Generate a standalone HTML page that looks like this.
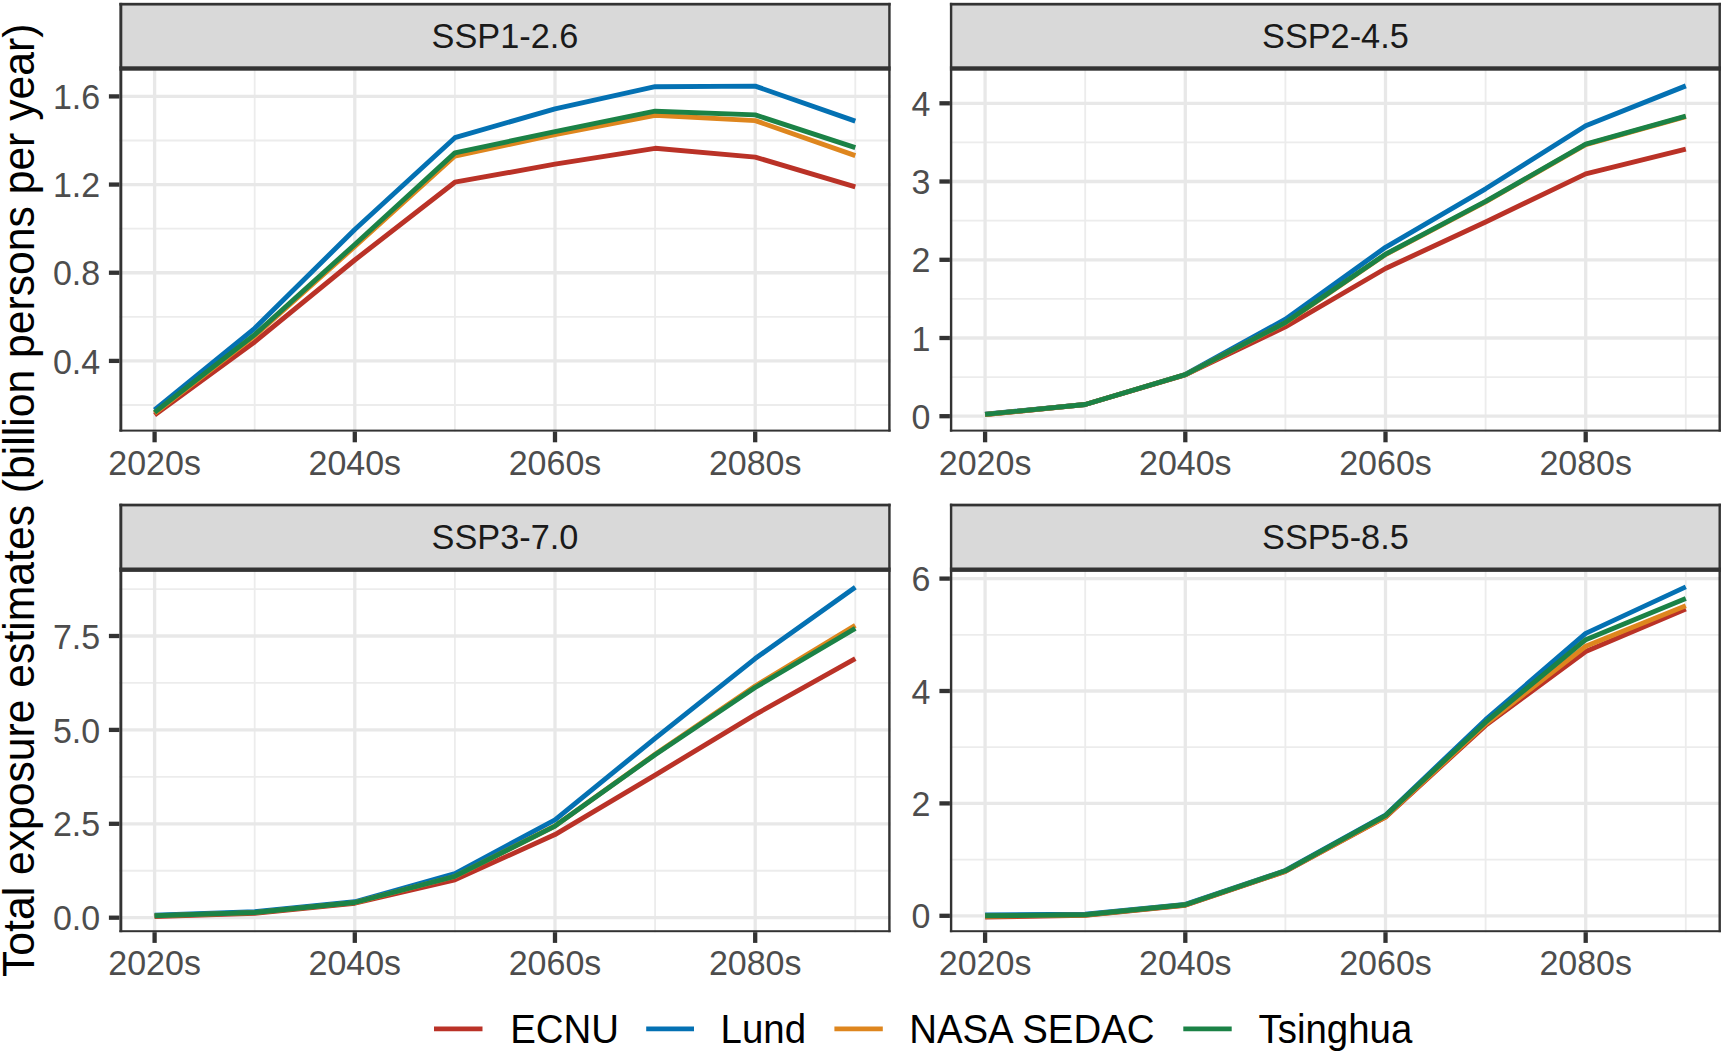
<!DOCTYPE html>
<html lang="en"><head><meta charset="utf-8"><title>Total exposure estimates</title>
<style>
html,body{margin:0;padding:0;background:#fff;}
body{width:1724px;height:1054px;overflow:hidden;}
svg{display:block;}
text{font-family:"Liberation Sans",Arial,Helvetica,sans-serif;font-kerning:normal;}
.ax{font-size:34px;fill:#4D4D4D;}
.st{font-size:34.3px;fill:#1A1A1A;}
.lg{font-size:38.4px;fill:#000;}
.ti{font-size:42.68px;fill:#000;}
</style></head><body>
<svg width="1724" height="1054" viewBox="0 0 1724 1054">
<rect x="0" y="0" width="1724" height="1054" fill="#fff"/>

<rect x="119.4" y="2.85" width="771.20" height="65.65" fill="#D9D9D9"/>
<text class="st" transform="translate(505.0,48.1) scale(1,1.04)" text-anchor="middle">SSP1-2.6</text>
<rect x="119.4" y="68.5" width="771.20" height="363.10" fill="#fff"/>
<line x1="119.4" x2="890.6" y1="140.5" y2="140.5" stroke="#ECECEC" stroke-width="1.8"/>
<line x1="119.4" x2="890.6" y1="228.65" y2="228.65" stroke="#ECECEC" stroke-width="1.8"/>
<line x1="119.4" x2="890.6" y1="316.8" y2="316.8" stroke="#ECECEC" stroke-width="1.8"/>
<line x1="119.4" x2="890.6" y1="405.0" y2="405.0" stroke="#ECECEC" stroke-width="1.8"/>
<line x1="254.7" x2="254.7" y1="68.5" y2="431.6" stroke="#ECECEC" stroke-width="1.8"/>
<line x1="454.9" x2="454.9" y1="68.5" y2="431.6" stroke="#ECECEC" stroke-width="1.8"/>
<line x1="655.1" x2="655.1" y1="68.5" y2="431.6" stroke="#ECECEC" stroke-width="1.8"/>
<line x1="855.3" x2="855.3" y1="68.5" y2="431.6" stroke="#ECECEC" stroke-width="1.8"/>
<line x1="119.4" x2="890.6" y1="96.4" y2="96.4" stroke="#E8E8E8" stroke-width="3.3"/>
<line x1="119.4" x2="890.6" y1="184.57" y2="184.57" stroke="#E8E8E8" stroke-width="3.3"/>
<line x1="119.4" x2="890.6" y1="272.73" y2="272.73" stroke="#E8E8E8" stroke-width="3.3"/>
<line x1="119.4" x2="890.6" y1="360.9" y2="360.9" stroke="#E8E8E8" stroke-width="3.3"/>
<line x1="154.6" x2="154.6" y1="68.5" y2="431.6" stroke="#E8E8E8" stroke-width="3.3"/>
<line x1="354.8" x2="354.8" y1="68.5" y2="431.6" stroke="#E8E8E8" stroke-width="3.3"/>
<line x1="555.0" x2="555.0" y1="68.5" y2="431.6" stroke="#E8E8E8" stroke-width="3.3"/>
<line x1="755.2" x2="755.2" y1="68.5" y2="431.6" stroke="#E8E8E8" stroke-width="3.3"/>
<polyline points="154.6,415.0 254.7,341.9 354.8,260.0 454.9,182.2 555.0,164.2 655.1,148.3 755.2,157.1 855.3,186.8" fill="none" stroke="#BA3227" stroke-width="4.9" stroke-linejoin="round" stroke-linecap="butt"/>
<polyline points="154.6,410.0 254.7,328.3 354.8,229.5 454.9,137.7 555.0,108.8 655.1,86.7 755.2,86.1 855.3,121.1" fill="none" stroke="#0471B3" stroke-width="4.9" stroke-linejoin="round" stroke-linecap="butt"/>
<polyline points="154.6,413.2 254.7,336.0 354.8,246.5 454.9,156.0 555.0,134.6 655.1,115.3 755.2,120.6 855.3,155.6" fill="none" stroke="#DE861E" stroke-width="4.9" stroke-linejoin="round" stroke-linecap="butt"/>
<polyline points="154.6,412.4 254.7,334.6 354.8,244.5 454.9,152.9 555.0,131.6 655.1,111.2 755.2,114.9 855.3,147.6" fill="none" stroke="#1B8246" stroke-width="4.9" stroke-linejoin="round" stroke-linecap="butt"/>
<g fill="#333333"><rect x="119.4" y="2.85" width="2.9" height="428.75"/><rect x="888.20" y="2.85" width="2.4" height="428.75"/><rect x="119.4" y="2.85" width="771.20" height="2.7"/><rect x="119.4" y="66.30" width="771.20" height="4.4"/><rect x="119.4" y="429.60" width="771.20" height="2.0"/></g>
<line x1="154.6" x2="154.6" y1="431.6" y2="442.3" stroke="#333333" stroke-width="4.3"/>
<text class="ax" transform="translate(154.6,474.9) scale(1,1.04)" text-anchor="middle">2020s</text>
<line x1="354.8" x2="354.8" y1="431.6" y2="442.3" stroke="#333333" stroke-width="4.3"/>
<text class="ax" transform="translate(354.8,474.9) scale(1,1.04)" text-anchor="middle">2040s</text>
<line x1="555.0" x2="555.0" y1="431.6" y2="442.3" stroke="#333333" stroke-width="4.3"/>
<text class="ax" transform="translate(555.0,474.9) scale(1,1.04)" text-anchor="middle">2060s</text>
<line x1="755.2" x2="755.2" y1="431.6" y2="442.3" stroke="#333333" stroke-width="4.3"/>
<text class="ax" transform="translate(755.2,474.9) scale(1,1.04)" text-anchor="middle">2080s</text>
<line x1="108.9" x2="119.4" y1="96.4" y2="96.4" stroke="#333333" stroke-width="4.3"/>
<text class="ax" transform="translate(100.2,109.0) scale(1,1.04)" text-anchor="end">1.6</text>
<line x1="108.9" x2="119.4" y1="184.57" y2="184.57" stroke="#333333" stroke-width="4.3"/>
<text class="ax" transform="translate(100.2,197.2) scale(1,1.04)" text-anchor="end">1.2</text>
<line x1="108.9" x2="119.4" y1="272.73" y2="272.73" stroke="#333333" stroke-width="4.3"/>
<text class="ax" transform="translate(100.2,285.3) scale(1,1.04)" text-anchor="end">0.8</text>
<line x1="108.9" x2="119.4" y1="360.9" y2="360.9" stroke="#333333" stroke-width="4.3"/>
<text class="ax" transform="translate(100.2,373.5) scale(1,1.04)" text-anchor="end">0.4</text>
<rect x="949.9" y="2.85" width="771.00" height="65.65" fill="#D9D9D9"/>
<text class="st" transform="translate(1335.4,48.1) scale(1,1.04)" text-anchor="middle">SSP2-4.5</text>
<rect x="949.9" y="68.5" width="771.00" height="363.10" fill="#fff"/>
<line x1="949.9" x2="1720.9" y1="142.4" y2="142.4" stroke="#ECECEC" stroke-width="1.8"/>
<line x1="949.9" x2="1720.9" y1="220.65" y2="220.65" stroke="#ECECEC" stroke-width="1.8"/>
<line x1="949.9" x2="1720.9" y1="298.9" y2="298.9" stroke="#ECECEC" stroke-width="1.8"/>
<line x1="949.9" x2="1720.9" y1="377.1" y2="377.1" stroke="#ECECEC" stroke-width="1.8"/>
<line x1="1085.2" x2="1085.2" y1="68.5" y2="431.6" stroke="#ECECEC" stroke-width="1.8"/>
<line x1="1285.4" x2="1285.4" y1="68.5" y2="431.6" stroke="#ECECEC" stroke-width="1.8"/>
<line x1="1485.6" x2="1485.6" y1="68.5" y2="431.6" stroke="#ECECEC" stroke-width="1.8"/>
<line x1="1685.8" x2="1685.8" y1="68.5" y2="431.6" stroke="#ECECEC" stroke-width="1.8"/>
<line x1="949.9" x2="1720.9" y1="103.3" y2="103.3" stroke="#E8E8E8" stroke-width="3.3"/>
<line x1="949.9" x2="1720.9" y1="181.5" y2="181.5" stroke="#E8E8E8" stroke-width="3.3"/>
<line x1="949.9" x2="1720.9" y1="259.8" y2="259.8" stroke="#E8E8E8" stroke-width="3.3"/>
<line x1="949.9" x2="1720.9" y1="338.0" y2="338.0" stroke="#E8E8E8" stroke-width="3.3"/>
<line x1="949.9" x2="1720.9" y1="416.2" y2="416.2" stroke="#E8E8E8" stroke-width="3.3"/>
<line x1="985.1" x2="985.1" y1="68.5" y2="431.6" stroke="#E8E8E8" stroke-width="3.3"/>
<line x1="1185.3" x2="1185.3" y1="68.5" y2="431.6" stroke="#E8E8E8" stroke-width="3.3"/>
<line x1="1385.5" x2="1385.5" y1="68.5" y2="431.6" stroke="#E8E8E8" stroke-width="3.3"/>
<line x1="1585.7" x2="1585.7" y1="68.5" y2="431.6" stroke="#E8E8E8" stroke-width="3.3"/>
<polyline points="985.1,414.5 1085.2,404.5 1185.3,374.9 1285.4,326.8 1385.5,268.5 1485.6,222.0 1585.7,173.9 1685.8,149.1" fill="none" stroke="#BA3227" stroke-width="4.9" stroke-linejoin="round" stroke-linecap="butt"/>
<polyline points="985.1,414.3 1085.2,404.5 1185.3,374.5 1285.4,319.2 1385.5,247.3 1485.6,188.8 1585.7,125.8 1685.8,85.9" fill="none" stroke="#0471B3" stroke-width="4.9" stroke-linejoin="round" stroke-linecap="butt"/>
<polyline points="985.1,414.5 1085.2,404.5 1185.3,374.7 1285.4,322.9 1385.5,254.6 1485.6,201.8 1585.7,144.6 1685.8,116.6" fill="none" stroke="#DE861E" stroke-width="4.9" stroke-linejoin="round" stroke-linecap="butt"/>
<polyline points="985.1,414.4 1085.2,404.5 1185.3,374.7 1285.4,322.6 1385.5,254.2 1485.6,201.4 1585.7,144.2 1685.8,116.1" fill="none" stroke="#1B8246" stroke-width="4.9" stroke-linejoin="round" stroke-linecap="butt"/>
<g fill="#333333"><rect x="949.9" y="2.85" width="2.4" height="428.75"/><rect x="1718.50" y="2.85" width="2.4" height="428.75"/><rect x="949.9" y="2.85" width="771.00" height="2.7"/><rect x="949.9" y="66.30" width="771.00" height="4.4"/><rect x="949.9" y="429.60" width="771.00" height="2.0"/></g>
<line x1="985.1" x2="985.1" y1="431.6" y2="442.3" stroke="#333333" stroke-width="4.3"/>
<text class="ax" transform="translate(985.1,474.9) scale(1,1.04)" text-anchor="middle">2020s</text>
<line x1="1185.3" x2="1185.3" y1="431.6" y2="442.3" stroke="#333333" stroke-width="4.3"/>
<text class="ax" transform="translate(1185.3,474.9) scale(1,1.04)" text-anchor="middle">2040s</text>
<line x1="1385.5" x2="1385.5" y1="431.6" y2="442.3" stroke="#333333" stroke-width="4.3"/>
<text class="ax" transform="translate(1385.5,474.9) scale(1,1.04)" text-anchor="middle">2060s</text>
<line x1="1585.7" x2="1585.7" y1="431.6" y2="442.3" stroke="#333333" stroke-width="4.3"/>
<text class="ax" transform="translate(1585.7,474.9) scale(1,1.04)" text-anchor="middle">2080s</text>
<line x1="939.4" x2="949.9" y1="103.3" y2="103.3" stroke="#333333" stroke-width="4.3"/>
<text class="ax" transform="translate(930.4,115.9) scale(1,1.04)" text-anchor="end">4</text>
<line x1="939.4" x2="949.9" y1="181.5" y2="181.5" stroke="#333333" stroke-width="4.3"/>
<text class="ax" transform="translate(930.4,194.1) scale(1,1.04)" text-anchor="end">3</text>
<line x1="939.4" x2="949.9" y1="259.8" y2="259.8" stroke="#333333" stroke-width="4.3"/>
<text class="ax" transform="translate(930.4,272.4) scale(1,1.04)" text-anchor="end">2</text>
<line x1="939.4" x2="949.9" y1="338.0" y2="338.0" stroke="#333333" stroke-width="4.3"/>
<text class="ax" transform="translate(930.4,350.6) scale(1,1.04)" text-anchor="end">1</text>
<line x1="939.4" x2="949.9" y1="416.2" y2="416.2" stroke="#333333" stroke-width="4.3"/>
<text class="ax" transform="translate(930.4,428.8) scale(1,1.04)" text-anchor="end">0</text>
<rect x="119.4" y="503.7" width="771.20" height="66.00" fill="#D9D9D9"/>
<text class="st" transform="translate(505.0,548.9) scale(1,1.04)" text-anchor="middle">SSP3-7.0</text>
<rect x="119.4" y="569.7" width="771.20" height="362.50" fill="#fff"/>
<line x1="119.4" x2="890.6" y1="589.05" y2="589.05" stroke="#ECECEC" stroke-width="1.8"/>
<line x1="119.4" x2="890.6" y1="682.95" y2="682.95" stroke="#ECECEC" stroke-width="1.8"/>
<line x1="119.4" x2="890.6" y1="776.85" y2="776.85" stroke="#ECECEC" stroke-width="1.8"/>
<line x1="119.4" x2="890.6" y1="870.75" y2="870.75" stroke="#ECECEC" stroke-width="1.8"/>
<line x1="254.7" x2="254.7" y1="569.7" y2="932.2" stroke="#ECECEC" stroke-width="1.8"/>
<line x1="454.9" x2="454.9" y1="569.7" y2="932.2" stroke="#ECECEC" stroke-width="1.8"/>
<line x1="655.1" x2="655.1" y1="569.7" y2="932.2" stroke="#ECECEC" stroke-width="1.8"/>
<line x1="855.3" x2="855.3" y1="569.7" y2="932.2" stroke="#ECECEC" stroke-width="1.8"/>
<line x1="119.4" x2="890.6" y1="636.0" y2="636.0" stroke="#E8E8E8" stroke-width="3.3"/>
<line x1="119.4" x2="890.6" y1="729.9" y2="729.9" stroke="#E8E8E8" stroke-width="3.3"/>
<line x1="119.4" x2="890.6" y1="823.8" y2="823.8" stroke="#E8E8E8" stroke-width="3.3"/>
<line x1="119.4" x2="890.6" y1="917.7" y2="917.7" stroke="#E8E8E8" stroke-width="3.3"/>
<line x1="154.6" x2="154.6" y1="569.7" y2="932.2" stroke="#E8E8E8" stroke-width="3.3"/>
<line x1="354.8" x2="354.8" y1="569.7" y2="932.2" stroke="#E8E8E8" stroke-width="3.3"/>
<line x1="555.0" x2="555.0" y1="569.7" y2="932.2" stroke="#E8E8E8" stroke-width="3.3"/>
<line x1="755.2" x2="755.2" y1="569.7" y2="932.2" stroke="#E8E8E8" stroke-width="3.3"/>
<polyline points="154.6,916.5 254.7,913.4 354.8,903.2 454.9,879.8 555.0,834.6 655.1,775.1 755.2,714.6 855.3,658.7" fill="none" stroke="#BA3227" stroke-width="4.9" stroke-linejoin="round" stroke-linecap="butt"/>
<polyline points="154.6,915.1 254.7,911.8 354.8,901.8 454.9,873.6 555.0,819.8 655.1,738.4 755.2,658.6 855.3,587.2" fill="none" stroke="#0471B3" stroke-width="4.9" stroke-linejoin="round" stroke-linecap="butt"/>
<polyline points="154.6,915.9 254.7,912.6 354.8,902.6 454.9,876.5 555.0,826.0 655.1,754.3 755.2,686.0 855.3,625.3" fill="none" stroke="#DE861E" stroke-width="4.9" stroke-linejoin="round" stroke-linecap="butt"/>
<polyline points="154.6,915.8 254.7,912.5 354.8,902.5 454.9,876.3 555.0,826.1 655.1,754.7 755.2,687.5 855.3,628.3" fill="none" stroke="#1B8246" stroke-width="4.9" stroke-linejoin="round" stroke-linecap="butt"/>
<g fill="#333333"><rect x="119.4" y="503.7" width="2.9" height="428.50"/><rect x="888.20" y="503.7" width="2.4" height="428.50"/><rect x="119.4" y="503.7" width="771.20" height="2.7"/><rect x="119.4" y="567.50" width="771.20" height="4.4"/><rect x="119.4" y="930.20" width="771.20" height="2.0"/></g>
<line x1="154.6" x2="154.6" y1="932.2" y2="942.9" stroke="#333333" stroke-width="4.3"/>
<text class="ax" transform="translate(154.6,975.4) scale(1,1.04)" text-anchor="middle">2020s</text>
<line x1="354.8" x2="354.8" y1="932.2" y2="942.9" stroke="#333333" stroke-width="4.3"/>
<text class="ax" transform="translate(354.8,975.4) scale(1,1.04)" text-anchor="middle">2040s</text>
<line x1="555.0" x2="555.0" y1="932.2" y2="942.9" stroke="#333333" stroke-width="4.3"/>
<text class="ax" transform="translate(555.0,975.4) scale(1,1.04)" text-anchor="middle">2060s</text>
<line x1="755.2" x2="755.2" y1="932.2" y2="942.9" stroke="#333333" stroke-width="4.3"/>
<text class="ax" transform="translate(755.2,975.4) scale(1,1.04)" text-anchor="middle">2080s</text>
<line x1="108.9" x2="119.4" y1="636.0" y2="636.0" stroke="#333333" stroke-width="4.3"/>
<text class="ax" transform="translate(100.2,648.6) scale(1,1.04)" text-anchor="end">7.5</text>
<line x1="108.9" x2="119.4" y1="729.9" y2="729.9" stroke="#333333" stroke-width="4.3"/>
<text class="ax" transform="translate(100.2,742.5) scale(1,1.04)" text-anchor="end">5.0</text>
<line x1="108.9" x2="119.4" y1="823.8" y2="823.8" stroke="#333333" stroke-width="4.3"/>
<text class="ax" transform="translate(100.2,836.4) scale(1,1.04)" text-anchor="end">2.5</text>
<line x1="108.9" x2="119.4" y1="917.7" y2="917.7" stroke="#333333" stroke-width="4.3"/>
<text class="ax" transform="translate(100.2,930.3) scale(1,1.04)" text-anchor="end">0.0</text>
<rect x="949.9" y="503.7" width="771.00" height="66.00" fill="#D9D9D9"/>
<text class="st" transform="translate(1335.4,548.9) scale(1,1.04)" text-anchor="middle">SSP5-8.5</text>
<rect x="949.9" y="569.7" width="771.00" height="362.50" fill="#fff"/>
<line x1="949.9" x2="1720.9" y1="634.8" y2="634.8" stroke="#ECECEC" stroke-width="1.8"/>
<line x1="949.9" x2="1720.9" y1="747.2" y2="747.2" stroke="#ECECEC" stroke-width="1.8"/>
<line x1="949.9" x2="1720.9" y1="859.6" y2="859.6" stroke="#ECECEC" stroke-width="1.8"/>
<line x1="1085.2" x2="1085.2" y1="569.7" y2="932.2" stroke="#ECECEC" stroke-width="1.8"/>
<line x1="1285.4" x2="1285.4" y1="569.7" y2="932.2" stroke="#ECECEC" stroke-width="1.8"/>
<line x1="1485.6" x2="1485.6" y1="569.7" y2="932.2" stroke="#ECECEC" stroke-width="1.8"/>
<line x1="1685.8" x2="1685.8" y1="569.7" y2="932.2" stroke="#ECECEC" stroke-width="1.8"/>
<line x1="949.9" x2="1720.9" y1="578.6" y2="578.6" stroke="#E8E8E8" stroke-width="3.3"/>
<line x1="949.9" x2="1720.9" y1="691.0" y2="691.0" stroke="#E8E8E8" stroke-width="3.3"/>
<line x1="949.9" x2="1720.9" y1="803.4" y2="803.4" stroke="#E8E8E8" stroke-width="3.3"/>
<line x1="949.9" x2="1720.9" y1="915.8" y2="915.8" stroke="#E8E8E8" stroke-width="3.3"/>
<line x1="985.1" x2="985.1" y1="569.7" y2="932.2" stroke="#E8E8E8" stroke-width="3.3"/>
<line x1="1185.3" x2="1185.3" y1="569.7" y2="932.2" stroke="#E8E8E8" stroke-width="3.3"/>
<line x1="1385.5" x2="1385.5" y1="569.7" y2="932.2" stroke="#E8E8E8" stroke-width="3.3"/>
<line x1="1585.7" x2="1585.7" y1="569.7" y2="932.2" stroke="#E8E8E8" stroke-width="3.3"/>
<polyline points="985.1,917.0 1085.2,915.4 1185.3,905.3 1285.4,871.4 1385.5,817.2 1485.6,725.4 1585.7,651.5 1685.8,608.9" fill="none" stroke="#BA3227" stroke-width="4.9" stroke-linejoin="round" stroke-linecap="butt"/>
<polyline points="985.1,915.0 1085.2,914.3 1185.3,904.4 1285.4,870.5 1385.5,815.2 1485.6,719.7 1585.7,633.4 1685.8,586.9" fill="none" stroke="#0471B3" stroke-width="4.9" stroke-linejoin="round" stroke-linecap="butt"/>
<polyline points="985.1,916.3 1085.2,915.0 1185.3,905.0 1285.4,871.1 1385.5,816.8 1485.6,724.0 1585.7,646.3 1685.8,605.8" fill="none" stroke="#DE861E" stroke-width="4.9" stroke-linejoin="round" stroke-linecap="butt"/>
<polyline points="985.1,915.8 1085.2,914.8 1185.3,904.8 1285.4,870.8 1385.5,815.6 1485.6,722.2 1585.7,639.7 1685.8,598.4" fill="none" stroke="#1B8246" stroke-width="4.9" stroke-linejoin="round" stroke-linecap="butt"/>
<g fill="#333333"><rect x="949.9" y="503.7" width="2.4" height="428.50"/><rect x="1718.50" y="503.7" width="2.4" height="428.50"/><rect x="949.9" y="503.7" width="771.00" height="2.7"/><rect x="949.9" y="567.50" width="771.00" height="4.4"/><rect x="949.9" y="930.20" width="771.00" height="2.0"/></g>
<line x1="985.1" x2="985.1" y1="932.2" y2="942.9" stroke="#333333" stroke-width="4.3"/>
<text class="ax" transform="translate(985.1,975.4) scale(1,1.04)" text-anchor="middle">2020s</text>
<line x1="1185.3" x2="1185.3" y1="932.2" y2="942.9" stroke="#333333" stroke-width="4.3"/>
<text class="ax" transform="translate(1185.3,975.4) scale(1,1.04)" text-anchor="middle">2040s</text>
<line x1="1385.5" x2="1385.5" y1="932.2" y2="942.9" stroke="#333333" stroke-width="4.3"/>
<text class="ax" transform="translate(1385.5,975.4) scale(1,1.04)" text-anchor="middle">2060s</text>
<line x1="1585.7" x2="1585.7" y1="932.2" y2="942.9" stroke="#333333" stroke-width="4.3"/>
<text class="ax" transform="translate(1585.7,975.4) scale(1,1.04)" text-anchor="middle">2080s</text>
<line x1="939.4" x2="949.9" y1="578.6" y2="578.6" stroke="#333333" stroke-width="4.3"/>
<text class="ax" transform="translate(930.4,591.2) scale(1,1.04)" text-anchor="end">6</text>
<line x1="939.4" x2="949.9" y1="691.0" y2="691.0" stroke="#333333" stroke-width="4.3"/>
<text class="ax" transform="translate(930.4,703.6) scale(1,1.04)" text-anchor="end">4</text>
<line x1="939.4" x2="949.9" y1="803.4" y2="803.4" stroke="#333333" stroke-width="4.3"/>
<text class="ax" transform="translate(930.4,816.0) scale(1,1.04)" text-anchor="end">2</text>
<line x1="939.4" x2="949.9" y1="915.8" y2="915.8" stroke="#333333" stroke-width="4.3"/>
<text class="ax" transform="translate(930.4,928.4) scale(1,1.04)" text-anchor="end">0</text>
<text class="ti" transform="translate(33.8,500.3) rotate(-90) scale(1,1.04)" text-anchor="middle">Total exposure estimates (billion persons per year)</text>
<line x1="434" x2="482.5" y1="1028.9" y2="1028.9" stroke="#BA3227" stroke-width="4.9"/>
<text class="lg" transform="translate(510.2,1042.6) scale(1,1.04)">ECNU</text>
<line x1="646.2" x2="694" y1="1028.9" y2="1028.9" stroke="#0471B3" stroke-width="4.9"/>
<text class="lg" transform="translate(720.6,1042.6) scale(1,1.04)">Lund</text>
<line x1="834.4" x2="882.8" y1="1028.9" y2="1028.9" stroke="#DE861E" stroke-width="4.9"/>
<text class="lg" transform="translate(909.2,1042.6) scale(1,1.04)">NASA SEDAC</text>
<line x1="1183.3" x2="1231.7" y1="1028.9" y2="1028.9" stroke="#1B8246" stroke-width="4.9"/>
<text class="lg" transform="translate(1258.6,1042.6) scale(1,1.04)">Tsinghua</text>
</svg></body></html>
